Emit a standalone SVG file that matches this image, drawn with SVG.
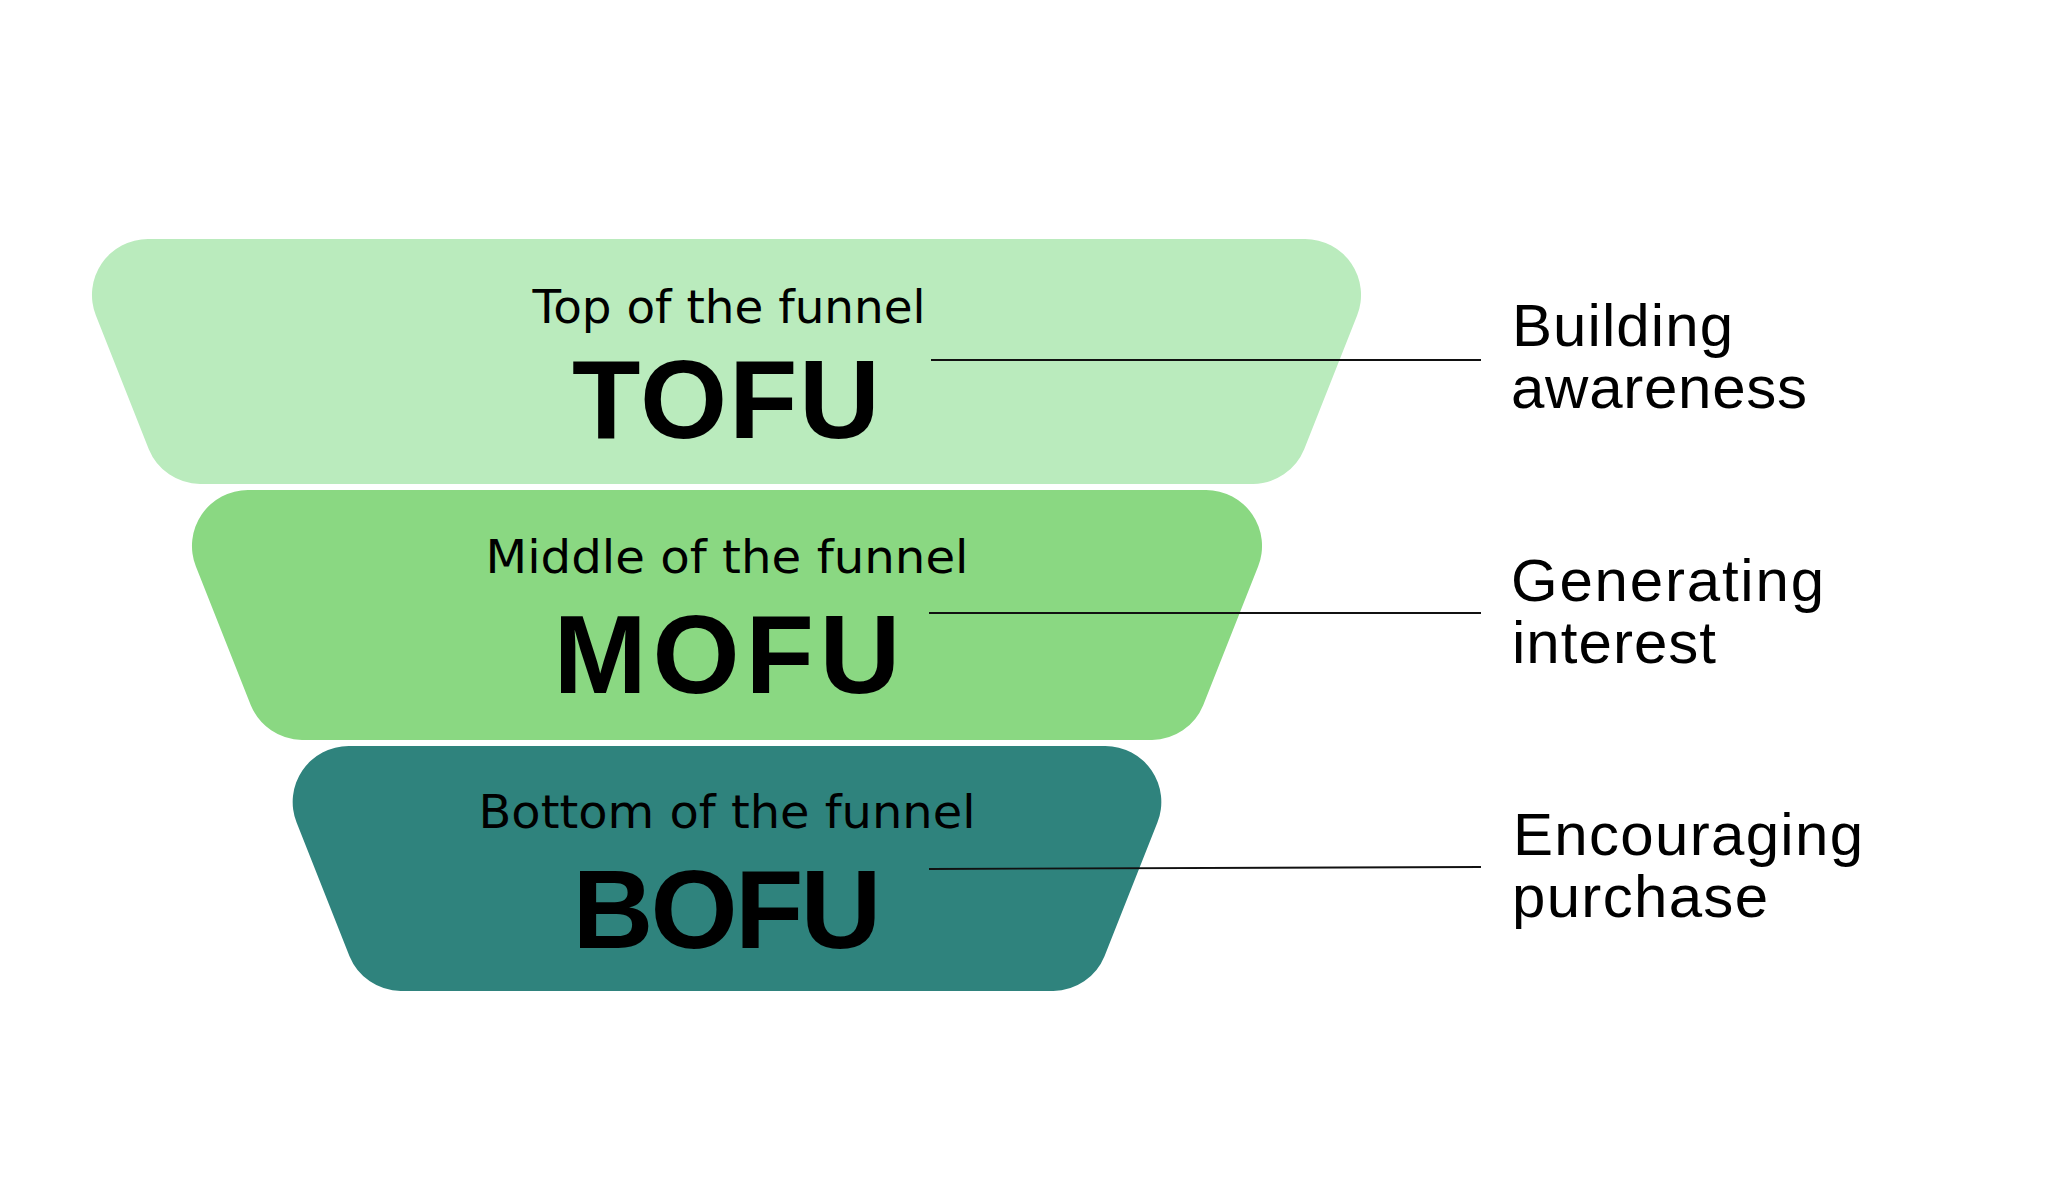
<svg xmlns="http://www.w3.org/2000/svg" width="2048" height="1202" viewBox="0 0 2048 1202">
<style>
.sub{font-family:"DejaVu Sans","Liberation Sans",Arial,sans-serif;font-size:47px;fill:#000;text-anchor:middle}
.big{font-family:"Liberation Sans",Arial,sans-serif;font-size:112px;font-weight:bold;fill:#000;text-anchor:middle}
.lbl{font-family:"Liberation Sans",Arial,sans-serif;font-size:60px;fill:#000}
.conn{stroke:#111;stroke-width:1.8;fill:none}
</style>
<rect width="2048" height="1202" fill="#fff"/>
<g id="tofu">
<path fill="#BAEBBD" d="M148,239 H1305 A56,56 0 0 1 1357.1,315.6 L1304.2,449.2 A56,56 0 0 1 1253,484 H200 A56,56 0 0 1 148.8,449.2 L95.9,315.6 A56,56 0 0 1 148,239 Z"/>
<text class="sub" x="729" y="323" textLength="393" lengthAdjust="spacingAndGlyphs">Top of the funnel</text>
<text class="big" x="726" y="438" textLength="308" lengthAdjust="spacing">TOFU</text>
</g>
<g id="mofu">
<path fill="#8AD882" d="M248,490 H1206 A56,56 0 0 1 1258.1,566.6 L1203.2,705.2 A56,56 0 0 1 1152,740 H302 A56,56 0 0 1 250.8,705.2 L195.9,566.6 A56,56 0 0 1 248,490 Z"/>
<text class="sub" x="727" y="573" textLength="483" lengthAdjust="spacingAndGlyphs">Middle of the funnel</text>
<text class="big" x="727" y="693" textLength="347" lengthAdjust="spacing">MOFU</text>
</g>
<g id="bofu">
<path fill="#2F837D" d="M348.7,746 H1105.3 A56,56 0 0 1 1157.4,822.6 L1104.5,956.2 A56,56 0 0 1 1053.3,991 H400.7 A56,56 0 0 1 349.5,956.2 L296.6,822.6 A56,56 0 0 1 348.7,746 Z"/>
<text class="sub" x="727" y="828" textLength="497" lengthAdjust="spacingAndGlyphs">Bottom of the funnel</text>
<text class="big" x="727" y="948" textLength="309" lengthAdjust="spacing">BOFU</text>
</g>
<g id="connectors">
<line class="conn" x1="931" y1="360" x2="1481" y2="360"/>
<line class="conn" x1="929" y1="613" x2="1481" y2="613"/>
<line class="conn" x1="929" y1="869" x2="1481" y2="867"/>
</g>
<g id="label-awareness">
<text class="lbl" x="1512" y="346" textLength="221" lengthAdjust="spacing">Building</text>
<text class="lbl" x="1511" y="408" textLength="296" lengthAdjust="spacing">awareness</text>
</g>
<g id="label-interest">
<text class="lbl" x="1511" y="601" textLength="313" lengthAdjust="spacing">Generating</text>
<text class="lbl" x="1512" y="663" textLength="204" lengthAdjust="spacing">interest</text>
</g>
<g id="label-purchase">
<text class="lbl" x="1513" y="855" textLength="350" lengthAdjust="spacing">Encouraging</text>
<text class="lbl" x="1512" y="917" textLength="256" lengthAdjust="spacing">purchase</text>
</g>
</svg>
